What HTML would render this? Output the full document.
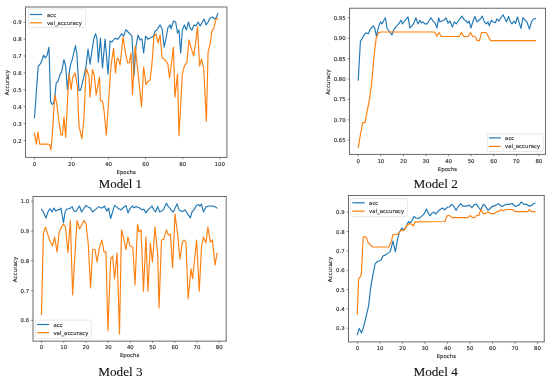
<!DOCTYPE html>
<html><head><meta charset="utf-8"><style>
html,body{margin:0;padding:0;background:#fff;width:550px;height:384px;overflow:hidden}
svg{display:block}
.t{font-family:"DejaVu Sans","Liberation Sans",sans-serif;font-size:5.4px;fill:#222;stroke:#222;stroke-width:0.1px}
.cap{font-family:"Liberation Serif",serif;font-size:13.4px;fill:#111;stroke:#111;stroke-width:0.1px}
</style></head><body>
<svg width="550" height="384" viewBox="0 0 550 384">
<rect width="550" height="384" fill="#fff"/>
<g>
<clipPath id="c1"><rect x="25.5" y="7" width="201.4" height="150.4"/></clipPath>
<polyline clip-path="url(#c1)" points="34.50,118.02 36.35,91.49 38.20,66.14 39.59,64.96 41.54,61.58 43.58,54.99 45.24,58.03 47.00,55.66 48.95,47.21 50.62,101.63 52.28,104.33 53.77,103.32 55.06,94.87 56.17,83.04 58.03,81.35 60.06,74.08 61.55,72.06 63.95,59.55 65.62,66.14 67.47,89.80 68.96,74.08 70.62,64.11 72.01,60.39 75.44,45.52 76.92,54.31 78.96,90.31 80.44,90.31 81.55,86.42 84.52,74.08 86.00,66.14 88.04,49.07 90.08,64.11 91.93,50.93 93.59,39.95 95.45,33.69 96.93,38.09 98.41,62.08 100.45,38.09 102.49,68.00 105.08,39.10 108.04,74.08 110.08,40.96 111.93,41.97 113.60,39.95 115.45,38.09 116.94,39.10 118.05,39.10 120.09,36.06 121.57,33.69 123.61,36.06 126.01,29.64 128.05,32.00 130.09,34.03 131.94,36.06 133.98,75.94 136.02,45.86 138.05,35.04 140.09,39.95 141.94,39.10 143.61,52.96 145.65,36.06 147.69,39.10 150.10,38.09 151.95,37.07 153.62,36.06 155.10,30.99 156.95,29.97 160.10,24.90 162.14,28.96 164.18,47.04 166.03,38.09 167.88,27.95 170.10,24.90 171.03,28.96 173.44,21.02 175.66,22.03 177.51,33.02 179.00,29.97 180.66,52.96 182.33,29.97 184.37,24.90 186.41,29.97 188.44,22.03 190.48,28.96 191.96,29.97 194.00,24.90 196.04,25.92 198.08,22.03 200.11,25.92 201.97,23.04 204.00,18.99 206.04,24.90 208.08,22.03 210.12,17.97 212.53,16.96 214.56,18.99 216.05,17.97 217.90,13.58" fill="none" stroke="#1f77b4" stroke-width="1.15" stroke-linejoin="round" stroke-linecap="round"/>
<polyline clip-path="url(#c1)" points="34.50,133.06 36.35,144.05 38.02,132.05 39.59,144.05 48.02,144.05 49.69,144.72 50.99,149.96 52.47,132.05 53.95,106.70 55.06,95.04 57.10,106.02 58.95,121.91 60.99,134.92 62.47,134.92 63.95,117.01 65.62,137.12 68.96,74.08 71.18,89.80 72.48,77.97 75.07,72.90 77.48,86.93 78.96,125.97 81.92,138.98 83.96,118.02 86.18,68.34 88.96,75.94 90.08,97.07 92.48,69.69 94.34,75.94 96.19,94.87 99.52,76.96 100.45,100.95 102.49,100.95 103.97,110.08 106.38,134.92 108.41,104.00 110.45,72.90 111.19,64.45 113.60,48.40 115.45,72.90 116.94,59.04 118.05,58.20 120.09,64.96 123.05,37.07 125.64,53.97 127.68,62.93 129.35,62.76 131.02,52.96 132.50,94.70 135.09,46.03 138.05,72.90 141.57,106.70 143.61,66.98 146.02,84.73 148.06,81.01 149.91,80.84 151.95,63.94 153.99,36.06 156.02,34.03 158.06,42.99 160.10,35.04 162.14,58.03 164.18,59.04 166.03,61.07 167.88,63.94 169.55,77.97 171.96,59.38 173.44,47.04 174.92,97.07 177.51,74.08 179.00,135.60 182.33,74.08 184.37,66.14 186.96,62.08 189.00,39.95 191.04,47.55 193.63,56.00 195.67,42.48 197.52,26.93 199.56,65.97 201.60,59.04 203.63,68.00 206.41,121.06 208.08,51.94 210.12,44.17 211.97,30.99 213.64,28.96 216.05,18.99 217.90,18.82" fill="none" stroke="#ff7f0e" stroke-width="1.15" stroke-linejoin="round" stroke-linecap="round"/>
<rect x="25.5" y="7" width="201.4" height="150.4" fill="none" stroke="#6a6a6a" stroke-width="1.0"/>
<line x1="34.50" y1="157.4" x2="34.50" y2="159.3" stroke="#444" stroke-width="0.6"/>
<text x="34.50" y="165.6" text-anchor="middle" class="t">0</text>
<line x1="71.55" y1="157.4" x2="71.55" y2="159.3" stroke="#444" stroke-width="0.6"/>
<text x="71.55" y="165.6" text-anchor="middle" class="t">20</text>
<line x1="108.60" y1="157.4" x2="108.60" y2="159.3" stroke="#444" stroke-width="0.6"/>
<text x="108.60" y="165.6" text-anchor="middle" class="t">40</text>
<line x1="145.65" y1="157.4" x2="145.65" y2="159.3" stroke="#444" stroke-width="0.6"/>
<text x="145.65" y="165.6" text-anchor="middle" class="t">60</text>
<line x1="182.70" y1="157.4" x2="182.70" y2="159.3" stroke="#444" stroke-width="0.6"/>
<text x="182.70" y="165.6" text-anchor="middle" class="t">80</text>
<line x1="219.75" y1="157.4" x2="219.75" y2="159.3" stroke="#444" stroke-width="0.6"/>
<text x="219.75" y="165.6" text-anchor="middle" class="t">100</text>
<line x1="23.6" y1="140.50" x2="25.5" y2="140.50" stroke="#444" stroke-width="0.6"/>
<text x="21.6" y="142.50" text-anchor="end" class="t">0.2</text>
<line x1="23.6" y1="123.60" x2="25.5" y2="123.60" stroke="#444" stroke-width="0.6"/>
<text x="21.6" y="125.60" text-anchor="end" class="t">0.3</text>
<line x1="23.6" y1="106.70" x2="25.5" y2="106.70" stroke="#444" stroke-width="0.6"/>
<text x="21.6" y="108.70" text-anchor="end" class="t">0.4</text>
<line x1="23.6" y1="89.80" x2="25.5" y2="89.80" stroke="#444" stroke-width="0.6"/>
<text x="21.6" y="91.80" text-anchor="end" class="t">0.5</text>
<line x1="23.6" y1="72.90" x2="25.5" y2="72.90" stroke="#444" stroke-width="0.6"/>
<text x="21.6" y="74.90" text-anchor="end" class="t">0.6</text>
<line x1="23.6" y1="56.00" x2="25.5" y2="56.00" stroke="#444" stroke-width="0.6"/>
<text x="21.6" y="58.00" text-anchor="end" class="t">0.7</text>
<line x1="23.6" y1="39.10" x2="25.5" y2="39.10" stroke="#444" stroke-width="0.6"/>
<text x="21.6" y="41.10" text-anchor="end" class="t">0.8</text>
<line x1="23.6" y1="22.20" x2="25.5" y2="22.20" stroke="#444" stroke-width="0.6"/>
<text x="21.6" y="24.20" text-anchor="end" class="t">0.9</text>
<text x="126.20" y="173.5" text-anchor="middle" class="t">Epochs</text>
<text transform="translate(7.3,82.6) rotate(-90)" x="0" y="2" text-anchor="middle" class="t" style="font-size:5.55px">Accuracy</text>
<rect x="28.6" y="9.05" width="56.9" height="18.55" rx="1.2" fill="#fff" fill-opacity="0.8" stroke="#d0d0d0" stroke-width="0.5"/>
<line x1="29.9" y1="14.5" x2="42.1" y2="14.5" stroke="#1f77b4" stroke-width="1.2"/>
<line x1="29.9" y1="22.8" x2="42.1" y2="22.8" stroke="#ff7f0e" stroke-width="1.2"/>
<text x="46.9" y="16.95" class="t">acc</text>
<text x="46.9" y="24.75" class="t">val_accuracy</text>
<text x="98.80" y="188.3" textLength="43.2" lengthAdjust="spacingAndGlyphs" class="cap">Model 1</text>
<clipPath id="c2"><rect x="349.55" y="8.25" width="195.95" height="146.15"/></clipPath>
<polyline clip-path="url(#c2)" points="358.25,80.22 360.40,41.43 362.40,38.16 364.08,34.90 365.99,32.86 368.35,33.67 369.92,30.00 371.94,27.14 373.51,25.92 374.63,27.96 376.43,36.12 378.45,27.14 380.47,21.83 382.04,23.87 383.83,20.20 385.40,17.75 386.97,27.96 388.32,30.00 389.89,32.04 391.91,34.90 393.59,30.00 395.50,27.14 397.52,25.10 399.09,23.06 401.00,20.20 402.46,23.87 404.48,21.02 408.07,16.93 409.86,27.96 411.88,25.92 413.90,23.06 415.92,17.75 417.94,23.87 419.96,20.20 421.53,23.06 422.88,21.83 424.90,23.87 426.92,23.87 428.94,21.02 430.96,17.75 432.98,21.02 434.99,23.06 437.01,27.96 438.59,17.75 439.93,21.83 441.95,21.02 443.97,20.20 445.99,17.75 448.01,23.06 450.03,21.02 452.39,27.14 454.29,21.83 456.31,23.87 458.33,21.02 460.35,18.16 461.92,16.12 463.94,19.38 465.96,21.02 467.98,23.06 469.10,21.02 470.90,27.96 472.69,22.24 474.94,16.53 476.96,21.83 478.30,21.02 480.32,18.97 482.34,16.12 484.36,21.83 486.38,23.87 487.95,21.83 489.30,25.92 491.32,20.20 493.34,22.24 495.36,22.65 496.93,18.97 498.95,21.02 500.97,17.75 502.99,14.89 504.56,17.75 506.35,21.83 508.60,16.53 510.39,21.83 511.96,23.87 513.98,21.02 515.55,23.47 517.57,16.93 518.92,21.83 520.94,28.37 522.96,17.75 524.98,19.79 527.00,22.24 529.47,29.18 531.49,21.83 533.51,18.97 535.53,18.57" fill="none" stroke="#1f77b4" stroke-width="1.15" stroke-linejoin="round" stroke-linecap="round"/>
<polyline clip-path="url(#c2)" points="358.25,147.59 360.49,134.12 362.74,122.68 364.98,122.68 367.23,110.84 369.47,99.41 371.71,83.08 373.96,56.54 376.20,38.16 378.45,32.86 380.69,32.04 434.55,32.04 436.79,36.12 439.03,32.45 441.28,36.53 459.23,36.53 461.47,32.45 463.72,36.53 468.21,36.53 470.45,32.45 472.69,36.53 474.94,36.53 477.18,40.61 479.43,40.61 481.67,32.45 486.16,32.45 490.65,40.61 535.53,40.61" fill="none" stroke="#ff7f0e" stroke-width="1.15" stroke-linejoin="round" stroke-linecap="round"/>
<rect x="349.55" y="8.25" width="195.95" height="146.15" fill="none" stroke="#6a6a6a" stroke-width="1.0"/>
<line x1="358.28" y1="154.4" x2="358.28" y2="156.3" stroke="#444" stroke-width="0.6"/>
<text x="358.28" y="163.0" text-anchor="middle" class="t">0</text>
<line x1="380.85" y1="154.4" x2="380.85" y2="156.3" stroke="#444" stroke-width="0.6"/>
<text x="380.85" y="163.0" text-anchor="middle" class="t">10</text>
<line x1="403.42" y1="154.4" x2="403.42" y2="156.3" stroke="#444" stroke-width="0.6"/>
<text x="403.42" y="163.0" text-anchor="middle" class="t">20</text>
<line x1="425.99" y1="154.4" x2="425.99" y2="156.3" stroke="#444" stroke-width="0.6"/>
<text x="425.99" y="163.0" text-anchor="middle" class="t">30</text>
<line x1="448.56" y1="154.4" x2="448.56" y2="156.3" stroke="#444" stroke-width="0.6"/>
<text x="448.56" y="163.0" text-anchor="middle" class="t">40</text>
<line x1="471.13" y1="154.4" x2="471.13" y2="156.3" stroke="#444" stroke-width="0.6"/>
<text x="471.13" y="163.0" text-anchor="middle" class="t">50</text>
<line x1="493.70" y1="154.4" x2="493.70" y2="156.3" stroke="#444" stroke-width="0.6"/>
<text x="493.70" y="163.0" text-anchor="middle" class="t">60</text>
<line x1="516.27" y1="154.4" x2="516.27" y2="156.3" stroke="#444" stroke-width="0.6"/>
<text x="516.27" y="163.0" text-anchor="middle" class="t">70</text>
<line x1="538.84" y1="154.4" x2="538.84" y2="156.3" stroke="#444" stroke-width="0.6"/>
<text x="538.84" y="163.0" text-anchor="middle" class="t">80</text>
<line x1="347.65000000000003" y1="140.24" x2="349.55" y2="140.24" stroke="#444" stroke-width="0.6"/>
<text x="345.65000000000003" y="142.24" text-anchor="end" class="t">0.65</text>
<line x1="347.65000000000003" y1="119.83" x2="349.55" y2="119.83" stroke="#444" stroke-width="0.6"/>
<text x="345.65000000000003" y="121.83" text-anchor="end" class="t">0.70</text>
<line x1="347.65000000000003" y1="99.41" x2="349.55" y2="99.41" stroke="#444" stroke-width="0.6"/>
<text x="345.65000000000003" y="101.41" text-anchor="end" class="t">0.75</text>
<line x1="347.65000000000003" y1="78.99" x2="349.55" y2="78.99" stroke="#444" stroke-width="0.6"/>
<text x="345.65000000000003" y="80.99" text-anchor="end" class="t">0.80</text>
<line x1="347.65000000000003" y1="58.58" x2="349.55" y2="58.58" stroke="#444" stroke-width="0.6"/>
<text x="345.65000000000003" y="60.58" text-anchor="end" class="t">0.85</text>
<line x1="347.65000000000003" y1="38.16" x2="349.55" y2="38.16" stroke="#444" stroke-width="0.6"/>
<text x="345.65000000000003" y="40.16" text-anchor="end" class="t">0.90</text>
<line x1="347.65000000000003" y1="17.75" x2="349.55" y2="17.75" stroke="#444" stroke-width="0.6"/>
<text x="345.65000000000003" y="19.75" text-anchor="end" class="t">0.95</text>
<text x="447.52" y="171.0" text-anchor="middle" class="t">Epochs</text>
<text transform="translate(328.3,82.2) rotate(-90)" x="0" y="2" text-anchor="middle" class="t" style="font-size:5.55px">Accuracy</text>
<rect x="487.3" y="133.9" width="55.900000000000034" height="17.69999999999999" rx="1.2" fill="#fff" fill-opacity="0.8" stroke="#d0d0d0" stroke-width="0.5"/>
<line x1="489" y1="137.9" x2="500.8" y2="137.9" stroke="#1f77b4" stroke-width="1.2"/>
<line x1="489" y1="146.4" x2="500.8" y2="146.4" stroke="#ff7f0e" stroke-width="1.2"/>
<text x="505.1" y="140.35" class="t">acc</text>
<text x="505.1" y="148.35" class="t">val_accuracy</text>
<text x="413.40" y="188.1" textLength="44.4" lengthAdjust="spacingAndGlyphs" class="cap">Model 2</text>
<clipPath id="c3"><rect x="33.0" y="196.5" width="193.2" height="144.64999999999998"/></clipPath>
<polyline clip-path="url(#c3)" points="41.50,209.30 43.39,211.98 45.94,217.94 47.94,211.98 49.94,208.70 51.94,211.98 53.94,208.11 55.94,211.09 57.94,209.60 59.61,209.60 61.05,208.11 63.50,223.01 65.05,211.98 66.61,209.30 68.61,208.70 70.61,208.11 72.16,206.62 73.94,211.09 75.94,211.39 77.50,209.00 79.50,206.02 81.50,211.98 83.50,209.00 85.94,205.42 87.94,206.91 90.38,208.11 92.61,211.98 95.05,209.89 97.05,208.11 99.05,206.62 101.05,208.11 103.05,207.21 104.60,206.02 106.60,211.09 108.60,208.11 110.60,218.54 112.60,211.98 114.60,205.42 116.60,206.91 118.60,208.70 121.05,209.89 123.49,207.51 125.94,205.42 127.94,212.88 129.94,208.70 132.38,206.02 134.16,207.81 135.94,206.62 137.93,207.21 139.93,208.11 141.93,209.89 143.93,209.00 145.93,212.88 147.93,209.89 149.93,208.11 151.93,206.02 153.71,209.60 155.49,211.98 157.71,206.62 159.71,211.98 161.71,211.09 163.71,209.30 166.38,203.34 168.38,206.62 169.93,208.11 171.49,210.49 173.49,211.98 175.04,208.11 177.04,203.93 179.04,209.89 181.04,211.09 183.04,211.39 184.82,209.89 186.37,211.98 188.15,214.66 190.37,217.94 191.93,211.98 193.93,209.89 196.37,205.42 198.37,204.53 199.93,206.02 201.48,204.23 203.48,211.98 205.93,206.91 209.04,206.02 211.93,206.02 215.04,206.62 217.04,208.11" fill="none" stroke="#1f77b4" stroke-width="1.15" stroke-linejoin="round" stroke-linecap="round"/>
<polyline clip-path="url(#c3)" points="41.50,314.53 43.39,233.15 45.50,227.18 47.94,234.94 49.94,240.90 52.61,245.97 54.61,237.02 57.05,251.93 59.05,233.15 61.39,227.18 63.50,224.20 65.50,227.18 67.94,252.52 70.39,220.63 72.61,294.85 75.27,248.95 77.05,220.63 79.50,228.97 81.72,225.10 83.94,220.63 85.94,223.01 88.16,242.98 90.61,288.00 92.61,249.54 95.05,249.54 97.05,262.06 99.49,247.16 101.94,240.00 103.94,251.93 105.94,251.93 107.94,330.63 110.60,259.08 112.60,256.10 114.60,279.05 117.05,253.12 119.49,333.90 121.49,229.87 123.71,238.51 125.94,249.54 127.94,237.02 129.94,245.97 131.49,246.56 132.82,247.16 135.05,285.02 137.49,224.20 139.05,231.95 141.05,229.87 143.49,291.28 145.93,237.02 147.93,291.28 150.38,242.98 152.38,262.06 155.04,227.18 157.71,254.91 159.04,307.97 161.49,240.00 163.71,239.41 166.38,229.87 168.38,234.94 170.38,234.04 172.60,268.02 175.04,214.07 177.93,237.02 179.93,259.08 182.37,242.09 183.93,240.00 185.93,242.09 188.15,298.73 191.04,268.92 192.60,278.76 196.60,240.00 199.26,291.28 201.48,246.86 203.48,237.02 205.93,242.98 207.93,227.18 210.37,242.09 212.37,240.00 215.04,265.04 217.04,253.12" fill="none" stroke="#ff7f0e" stroke-width="1.15" stroke-linejoin="round" stroke-linecap="round"/>
<rect x="33.0" y="196.5" width="193.2" height="144.64999999999998" fill="none" stroke="#6a6a6a" stroke-width="1.0"/>
<line x1="41.50" y1="341.15" x2="41.50" y2="343.04999999999995" stroke="#444" stroke-width="0.6"/>
<text x="41.50" y="349.34999999999997" text-anchor="middle" class="t">0</text>
<line x1="63.72" y1="341.15" x2="63.72" y2="343.04999999999995" stroke="#444" stroke-width="0.6"/>
<text x="63.72" y="349.34999999999997" text-anchor="middle" class="t">10</text>
<line x1="85.94" y1="341.15" x2="85.94" y2="343.04999999999995" stroke="#444" stroke-width="0.6"/>
<text x="85.94" y="349.34999999999997" text-anchor="middle" class="t">20</text>
<line x1="108.16" y1="341.15" x2="108.16" y2="343.04999999999995" stroke="#444" stroke-width="0.6"/>
<text x="108.16" y="349.34999999999997" text-anchor="middle" class="t">30</text>
<line x1="130.38" y1="341.15" x2="130.38" y2="343.04999999999995" stroke="#444" stroke-width="0.6"/>
<text x="130.38" y="349.34999999999997" text-anchor="middle" class="t">40</text>
<line x1="152.60" y1="341.15" x2="152.60" y2="343.04999999999995" stroke="#444" stroke-width="0.6"/>
<text x="152.60" y="349.34999999999997" text-anchor="middle" class="t">50</text>
<line x1="174.82" y1="341.15" x2="174.82" y2="343.04999999999995" stroke="#444" stroke-width="0.6"/>
<text x="174.82" y="349.34999999999997" text-anchor="middle" class="t">60</text>
<line x1="197.04" y1="341.15" x2="197.04" y2="343.04999999999995" stroke="#444" stroke-width="0.6"/>
<text x="197.04" y="349.34999999999997" text-anchor="middle" class="t">70</text>
<line x1="219.26" y1="341.15" x2="219.26" y2="343.04999999999995" stroke="#444" stroke-width="0.6"/>
<text x="219.26" y="349.34999999999997" text-anchor="middle" class="t">80</text>
<line x1="31.1" y1="320.49" x2="33.0" y2="320.49" stroke="#444" stroke-width="0.6"/>
<text x="29.1" y="322.49" text-anchor="end" class="t">0.6</text>
<line x1="31.1" y1="290.68" x2="33.0" y2="290.68" stroke="#444" stroke-width="0.6"/>
<text x="29.1" y="292.68" text-anchor="end" class="t">0.7</text>
<line x1="31.1" y1="260.87" x2="33.0" y2="260.87" stroke="#444" stroke-width="0.6"/>
<text x="29.1" y="262.87" text-anchor="end" class="t">0.8</text>
<line x1="31.1" y1="231.06" x2="33.0" y2="231.06" stroke="#444" stroke-width="0.6"/>
<text x="29.1" y="233.06" text-anchor="end" class="t">0.9</text>
<line x1="31.1" y1="201.25" x2="33.0" y2="201.25" stroke="#444" stroke-width="0.6"/>
<text x="29.1" y="203.25" text-anchor="end" class="t">1.0</text>
<text x="129.60" y="356.8" text-anchor="middle" class="t">Epochs</text>
<text transform="translate(15.2,269.5) rotate(-90)" x="0" y="2" text-anchor="middle" class="t" style="font-size:5.55px">Accuracy</text>
<rect x="35.05" y="320.2" width="56.150000000000006" height="18.05000000000001" rx="1.2" fill="#fff" fill-opacity="0.8" stroke="#d0d0d0" stroke-width="0.5"/>
<line x1="37.1" y1="324.5" x2="49" y2="324.5" stroke="#1f77b4" stroke-width="1.2"/>
<line x1="37.1" y1="332.6" x2="49" y2="332.6" stroke="#ff7f0e" stroke-width="1.2"/>
<text x="53.4" y="326.95" class="t">acc</text>
<text x="53.4" y="334.55" class="t">val_accuracy</text>
<text x="98.20" y="375.6" textLength="44.4" lengthAdjust="spacingAndGlyphs" class="cap">Model 3</text>
<clipPath id="c4"><rect x="348.5" y="195.5" width="195.75" height="146.39999999999998"/></clipPath>
<polyline clip-path="url(#c4)" points="357.25,334.80 359.27,328.42 361.41,332.87 363.32,327.84 366.02,316.83 368.60,305.81 370.51,288.80 372.53,276.81 375.01,264.05 377.03,261.54 379.05,260.96 381.07,260.00 382.87,255.94 384.89,255.16 387.37,253.62 390.06,251.88 391.41,247.04 392.99,241.05 395.39,251.88 397.48,239.89 399.39,231.97 401.98,228.10 404.00,230.03 406.02,227.13 408.49,221.53 409.84,222.88 411.86,220.95 414.00,216.50 415.91,218.05 417.93,218.44 419.96,217.66 421.98,215.92 424.00,213.99 426.59,208.96 428.72,214.18 430.07,215.92 432.09,213.02 433.89,212.06 435.69,214.18 437.26,212.25 439.51,209.93 442.65,208.00 444.90,209.93 447.37,207.03 449.40,207.03 451.42,204.32 453.44,206.06 456.14,210.32 458.61,206.06 460.63,203.55 463.11,206.06 467.15,206.06 469.40,205.10 471.87,207.61 474.57,204.32 476.59,204.32 479.06,208.00 480.64,209.93 483.33,204.32 485.36,206.06 488.05,210.32 490.53,208.00 493.00,206.06 495.02,205.68 498.62,203.55 501.09,206.06 503.11,206.06 506.03,204.32 508.96,204.32 512.10,203.55 515.47,206.45 517.05,205.68 519.07,205.10 521.32,202.01 524.01,204.32 526.49,204.32 528.96,206.06 530.98,205.68 533.00,204.32 535.03,202.97" fill="none" stroke="#1f77b4" stroke-width="1.15" stroke-linejoin="round" stroke-linecap="round"/>
<polyline clip-path="url(#c4)" points="357.25,314.12 358.60,278.94 359.95,277.39 361.41,274.11 363.09,237.96 363.99,236.61 366.02,236.99 368.04,242.40 370.96,245.69 372.98,247.04 388.94,247.04 391.41,241.25 392.99,234.48 397.03,234.48 399.05,232.55 401.08,230.42 404.00,230.42 406.92,225.59 409.39,223.65 411.41,224.04 413.44,225.97 415.01,221.92 444.90,221.53 447.37,215.54 449.40,215.54 452.09,217.66 468.05,217.66 470.07,215.54 472.55,217.66 474.57,217.66 476.59,215.54 478.84,215.54 480.86,209.54 483.33,213.60 485.58,213.60 488.05,212.06 490.53,213.60 494.57,213.60 497.04,211.67 499.29,211.09 501.09,209.54 503.11,211.09 506.03,209.54 512.10,209.54 515.47,211.67 527.84,211.67 529.41,209.54 531.43,211.67 535.03,211.67" fill="none" stroke="#ff7f0e" stroke-width="1.15" stroke-linejoin="round" stroke-linecap="round"/>
<rect x="348.5" y="195.5" width="195.75" height="146.39999999999998" fill="none" stroke="#6a6a6a" stroke-width="1.0"/>
<line x1="357.40" y1="341.9" x2="357.40" y2="343.79999999999995" stroke="#444" stroke-width="0.6"/>
<text x="357.40" y="350.09999999999997" text-anchor="middle" class="t">0</text>
<line x1="379.91" y1="341.9" x2="379.91" y2="343.79999999999995" stroke="#444" stroke-width="0.6"/>
<text x="379.91" y="350.09999999999997" text-anchor="middle" class="t">10</text>
<line x1="402.43" y1="341.9" x2="402.43" y2="343.79999999999995" stroke="#444" stroke-width="0.6"/>
<text x="402.43" y="350.09999999999997" text-anchor="middle" class="t">20</text>
<line x1="424.94" y1="341.9" x2="424.94" y2="343.79999999999995" stroke="#444" stroke-width="0.6"/>
<text x="424.94" y="350.09999999999997" text-anchor="middle" class="t">30</text>
<line x1="447.45" y1="341.9" x2="447.45" y2="343.79999999999995" stroke="#444" stroke-width="0.6"/>
<text x="447.45" y="350.09999999999997" text-anchor="middle" class="t">40</text>
<line x1="469.96" y1="341.9" x2="469.96" y2="343.79999999999995" stroke="#444" stroke-width="0.6"/>
<text x="469.96" y="350.09999999999997" text-anchor="middle" class="t">50</text>
<line x1="492.48" y1="341.9" x2="492.48" y2="343.79999999999995" stroke="#444" stroke-width="0.6"/>
<text x="492.48" y="350.09999999999997" text-anchor="middle" class="t">60</text>
<line x1="514.99" y1="341.9" x2="514.99" y2="343.79999999999995" stroke="#444" stroke-width="0.6"/>
<text x="514.99" y="350.09999999999997" text-anchor="middle" class="t">70</text>
<line x1="537.50" y1="341.9" x2="537.50" y2="343.79999999999995" stroke="#444" stroke-width="0.6"/>
<text x="537.50" y="350.09999999999997" text-anchor="middle" class="t">80</text>
<line x1="346.6" y1="328.23" x2="348.5" y2="328.23" stroke="#444" stroke-width="0.6"/>
<text x="344.6" y="330.23" text-anchor="end" class="t">0.3</text>
<line x1="346.6" y1="308.90" x2="348.5" y2="308.90" stroke="#444" stroke-width="0.6"/>
<text x="344.6" y="310.90" text-anchor="end" class="t">0.4</text>
<line x1="346.6" y1="289.57" x2="348.5" y2="289.57" stroke="#444" stroke-width="0.6"/>
<text x="344.6" y="291.57" text-anchor="end" class="t">0.5</text>
<line x1="346.6" y1="270.24" x2="348.5" y2="270.24" stroke="#444" stroke-width="0.6"/>
<text x="344.6" y="272.24" text-anchor="end" class="t">0.6</text>
<line x1="346.6" y1="250.91" x2="348.5" y2="250.91" stroke="#444" stroke-width="0.6"/>
<text x="344.6" y="252.91" text-anchor="end" class="t">0.7</text>
<line x1="346.6" y1="231.58" x2="348.5" y2="231.58" stroke="#444" stroke-width="0.6"/>
<text x="344.6" y="233.58" text-anchor="end" class="t">0.8</text>
<line x1="346.6" y1="212.25" x2="348.5" y2="212.25" stroke="#444" stroke-width="0.6"/>
<text x="344.6" y="214.25" text-anchor="end" class="t">0.9</text>
<text x="446.38" y="357.6" text-anchor="middle" class="t">Epochs</text>
<text transform="translate(330.2,269.5) rotate(-90)" x="0" y="2" text-anchor="middle" class="t" style="font-size:5.55px">Accuracy</text>
<rect x="350.8" y="198.7" width="56.5" height="17.900000000000006" rx="1.2" fill="#fff" fill-opacity="0.8" stroke="#d0d0d0" stroke-width="0.5"/>
<line x1="352.3" y1="202.8" x2="364.8" y2="202.8" stroke="#1f77b4" stroke-width="1.2"/>
<line x1="352.3" y1="211.15" x2="364.8" y2="211.15" stroke="#ff7f0e" stroke-width="1.2"/>
<text x="369.1" y="205.25" class="t">acc</text>
<text x="369.1" y="213.10" class="t">val_accuracy</text>
<text x="413.40" y="375.6" textLength="44.4" lengthAdjust="spacingAndGlyphs" class="cap">Model 4</text>
</g>
</svg>
</body></html>
